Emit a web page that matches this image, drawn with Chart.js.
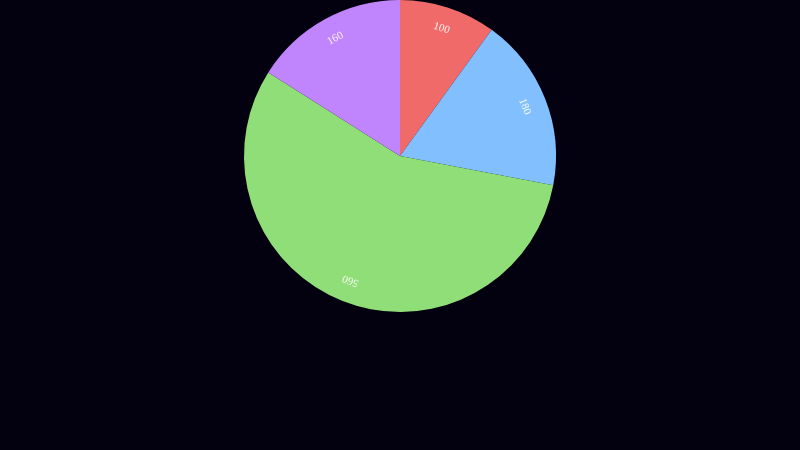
<!DOCTYPE html>
<html>
<head>
<meta charset="utf-8">
<script src="https://cdn.jsdelivr.net/npm/chart.js@4/dist/chart.umd.min.js"></script>
<style>
  html, body { margin: 0; padding: 0; background: #030110; }
  #wrap { width: 800px; height: 450px; position: relative; }
</style>
</head>
<body>
<div id="wrap"><canvas id="c"></canvas></div>
<script>
const categories = ["A", "B", "C", "D"];
const values = [100, 180, 560, 160];
const colors = ["#f06a6a", "#82bfff", "#8fde78", "#c084fc"];

const radialLabels = {
  id: "radialLabels",
  afterDatasetsDraw(chart) {
    const ctx = chart.ctx;
    const meta = chart.getDatasetMeta(0);
    ctx.save();
    ctx.font = "11px 'Liberation Serif', serif";
    ctx.fillStyle = "rgba(255,255,255,0.92)";
    ctx.textAlign = "center";
    ctx.textBaseline = "middle";
    meta.data.forEach((arc, i) => {
      const p = arc.getProps(["x", "y", "startAngle", "endAngle", "outerRadius"], true);
      const mid = (p.startAngle + p.endAngle) / 2;
      const r = p.outerRadius * 0.86;
      const x = p.x + Math.cos(mid) * r;
      const y = p.y + Math.sin(mid) * r;
      ctx.save();
      ctx.translate(x, y);
      ctx.rotate(mid + Math.PI / 2);
      ctx.fillText(String(values[i]), 0, 0);
      ctx.restore();
    });
    ctx.restore();
  }
};

new Chart(document.getElementById("c"), {
  type: "pie",
  data: {
    labels: categories,
    datasets: [{
      data: values,
      backgroundColor: colors,
      borderWidth: 0
    }]
  },
  options: {
    responsive: true,
    maintainAspectRatio: false,
    animation: false,
    layout: { padding: { top: 0, bottom: 138, left: 0, right: 0 } },
    plugins: {
      legend: { display: false },
      tooltip: { enabled: false }
    }
  },
  plugins: [radialLabels]
});
</script>
</body>
</html>
